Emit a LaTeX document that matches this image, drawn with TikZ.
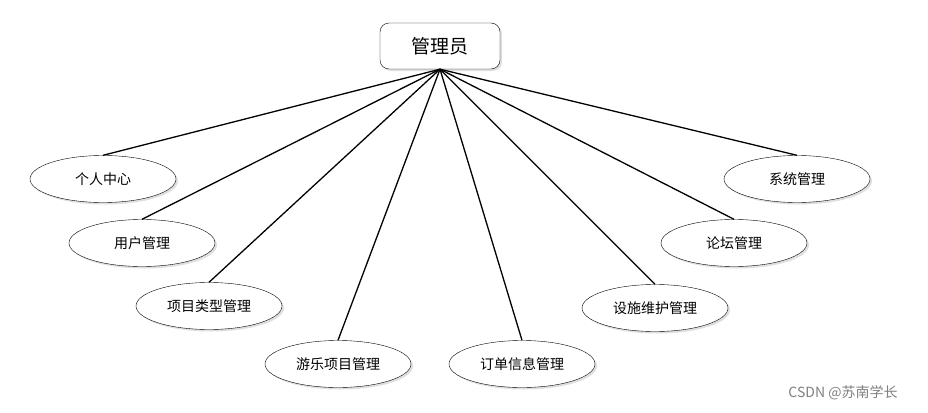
\documentclass[tikz,border=0pt]{standalone}
\usepackage{fontspec}
\setmainfont{Noto Sans CJK SC}
\usetikzlibrary{shapes.geometric,shadows}
\begin{document}
\begin{tikzpicture}[x=1pt,y=-1pt,
  leaf/.style={ellipse,draw,fill=white,minimum width=146pt,minimum height=47pt,inner sep=0pt,font=\fontsize{14}{16}\selectfont,drop shadow={shadow xshift=2pt,shadow yshift=-2pt,opacity=0.25}},
  rootbox/.style={rectangle,rounded corners=9pt,draw,fill=white,minimum width=120pt,minimum height=46pt,font=\fontsize{19}{22}\selectfont,drop shadow={shadow xshift=2pt,shadow yshift=-2pt,opacity=0.25}},
  link/.style={line width=1.3pt}]
\fill[white] (0,0) rectangle (928,412);
\useasboundingbox (0,0) rectangle (928,412);
\node[rootbox] (r) at (440,46) {管理员};
\node[leaf] (a) at (103,179) {个人中心};
\node[leaf] (b) at (142,243) {用户管理};
\node[leaf] (c) at (209,306) {项目类型管理};
\node[leaf] (d) at (338,364) {游乐项目管理};
\node[leaf] (e) at (522,364) {订单信息管理};
\node[leaf] (f) at (655,308) {设施维护管理};
\node[leaf] (g) at (734,243) {论坛管理};
\node[leaf] (h) at (797,179) {系统管理};
\foreach \n in {a,b,c,d,e,f,g,h} \draw[link] (r.south) -- (\n.north);
\node[text=gray,font=\fontsize{14}{16}\selectfont] (w) at (843,393) {CSDN @苏南学长};
\end{tikzpicture}
\end{document}
